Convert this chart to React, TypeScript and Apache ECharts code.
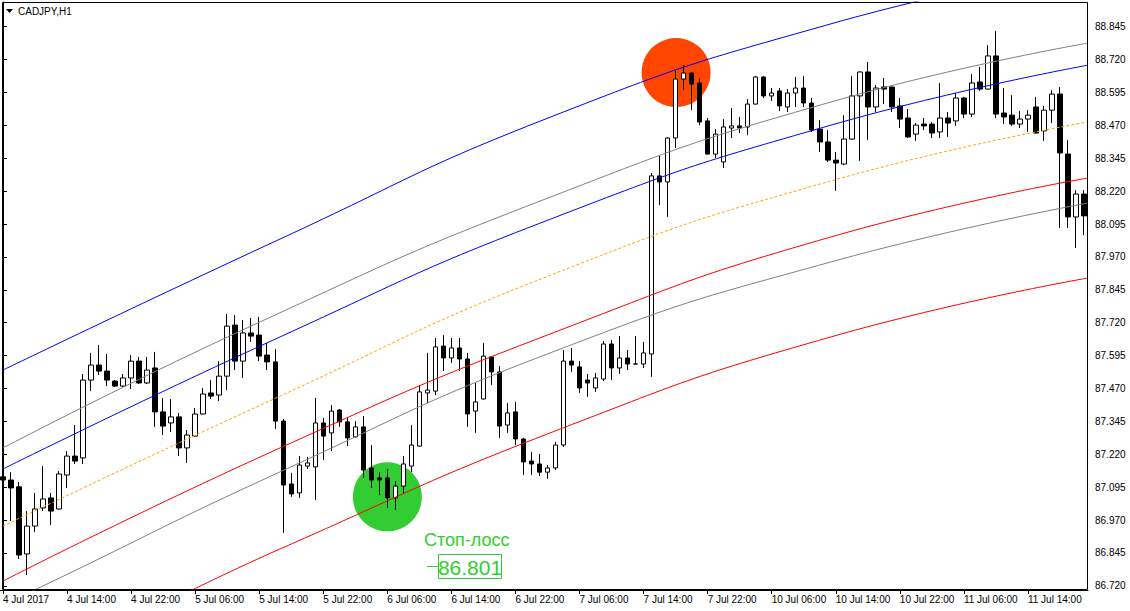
import React, { useEffect, useRef } from 'react';
import * as echarts from 'echarts';

const TITLE = 'CADJPY,H1';
const TIME_LABELS = [
  '4 Jul 2017', '4 Jul 14:00', '4 Jul 22:00', '5 Jul 06:00', '5 Jul 14:00', '5 Jul 22:00',
  '6 Jul 06:00', '6 Jul 14:00', '6 Jul 22:00', '7 Jul 06:00', '7 Jul 14:00', '7 Jul 22:00',
  '10 Jul 06:00', '10 Jul 14:00', '10 Jul 22:00', '11 Jul 06:00', '11 Jul 14:00',
];
const PRICE_TICKS = [
  86.72, 86.845, 86.97, 87.095, 87.22, 87.345, 87.47, 87.595, 87.72,
  87.845, 87.97, 88.095, 88.22, 88.345, 88.47, 88.595, 88.72, 88.845,
];
const Y_MIN = 86.704;
const Y_MAX = 88.939;

// [open, close, low, high]
const CANDLES: number[][] = [
  [87.134, 87.122, 87.111, 87.172], [87.122, 87.092, 86.966, 87.152], [87.096, 86.837, 86.822, 87.115],
  [86.841, 86.947, 86.761, 87.004], [86.947, 87.012, 86.924, 87.073], [87.016, 87.05, 87.004, 87.175],
  [87.054, 87.004, 86.951, 87.073], [87.012, 87.145, 87.01, 87.156], [87.141, 87.213, 87.092, 87.232],
  [87.213, 87.194, 87.183, 87.331], [87.206, 87.502, 87.183, 87.525], [87.502, 87.559, 87.46, 87.605],
  [87.559, 87.536, 87.521, 87.635], [87.536, 87.502, 87.479, 87.601], [87.498, 87.479, 87.476, 87.502],
  [87.479, 87.51, 87.476, 87.525], [87.51, 87.574, 87.468, 87.597], [87.574, 87.491, 87.487, 87.59],
  [87.491, 87.54, 87.487, 87.59], [87.548, 87.381, 87.324, 87.609], [87.381, 87.327, 87.293, 87.434],
  [87.339, 87.362, 87.305, 87.43], [87.362, 87.244, 87.213, 87.377], [87.244, 87.293, 87.187, 87.312],
  [87.289, 87.373, 87.287, 87.396], [87.373, 87.449, 87.371, 87.472], [87.453, 87.441, 87.43, 87.502],
  [87.445, 87.517, 87.422, 87.574], [87.517, 87.707, 87.464, 87.753], [87.711, 87.574, 87.54, 87.749],
  [87.574, 87.681, 87.51, 87.73], [87.681, 87.669, 87.647, 87.738], [87.673, 87.593, 87.574, 87.742],
  [87.597, 87.571, 87.54, 87.643], [87.571, 87.346, 87.316, 87.62], [87.346, 87.103, 86.921, 87.354],
  [87.107, 87.069, 87.058, 87.149], [87.073, 87.179, 87.054, 87.213], [87.175, 87.187, 87.164, 87.21],
  [87.172, 87.339, 87.046, 87.434], [87.339, 87.289, 87.198, 87.358], [87.301, 87.384, 87.232, 87.407],
  [87.388, 87.343, 87.324, 87.392], [87.343, 87.282, 87.251, 87.358], [87.286, 87.324, 87.284, 87.346],
  [87.324, 87.16, 87.13, 87.365], [87.168, 87.122, 87.092, 87.255], [87.13, 87.122, 87.065, 87.152],
  [87.13, 87.054, 87.016, 87.164], [87.054, 87.099, 87.008, 87.118], [87.099, 87.183, 87.073, 87.213],
  [87.175, 87.255, 87.152, 87.331], [87.251, 87.457, 87.248, 87.483], [87.453, 87.464, 87.415, 87.605],
  [87.46, 87.628, 87.445, 87.662], [87.631, 87.586, 87.536, 87.673], [87.586, 87.624, 87.567, 87.662],
  [87.624, 87.582, 87.536, 87.662], [87.582, 87.373, 87.324, 87.605], [87.384, 87.419, 87.301, 87.491],
  [87.43, 87.593, 87.428, 87.643], [87.59, 87.533, 87.483, 87.593], [87.533, 87.327, 87.282, 87.555],
  [87.331, 87.377, 87.301, 87.415], [87.381, 87.278, 87.255, 87.419], [87.278, 87.191, 87.141, 87.282],
  [87.194, 87.183, 87.141, 87.229], [87.183, 87.152, 87.137, 87.221], [87.152, 87.168, 87.126, 87.179],
  [87.168, 87.255, 87.16, 87.267], [87.255, 87.574, 87.248, 87.616], [87.574, 87.559, 87.533, 87.624],
  [87.552, 87.472, 87.453, 87.574], [87.502, 87.491, 87.438, 87.525], [87.472, 87.51, 87.457, 87.529],
  [87.506, 87.639, 87.498, 87.65], [87.639, 87.548, 87.502, 87.654], [87.548, 87.586, 87.525, 87.669],
  [87.586, 87.563, 87.54, 87.616], [87.563, 87.563, 87.561, 87.669], [87.563, 87.605, 87.548, 87.647],
  [87.601, 88.278, 87.514, 88.289], [88.278, 88.255, 88.167, 88.354], [88.255, 88.422, 88.122, 88.425],
  [88.422, 88.646, 88.384, 88.677], [88.646, 88.669, 88.604, 88.699], [88.669, 88.627, 88.528, 88.672],
  [88.631, 88.483, 88.471, 88.65], [88.487, 88.361, 88.359, 88.498], [88.361, 88.437, 88.346, 88.456],
  [88.331, 88.464, 88.308, 88.494], [88.46, 88.468, 88.422, 88.536], [88.468, 88.46, 88.441, 88.502],
  [88.464, 88.551, 88.433, 88.57], [88.551, 88.654, 88.549, 88.658], [88.654, 88.582, 88.574, 88.658],
  [88.582, 88.593, 88.563, 88.612], [88.601, 88.544, 88.525, 88.612], [88.54, 88.593, 88.521, 88.608],
  [88.593, 88.612, 88.54, 88.654], [88.612, 88.555, 88.54, 88.658], [88.555, 88.452, 88.445, 88.574],
  [88.456, 88.407, 88.369, 88.49], [88.407, 88.338, 88.331, 88.452], [88.338, 88.327, 88.221, 88.369],
  [88.323, 88.418, 88.319, 88.509], [88.418, 88.582, 88.416, 88.658], [88.582, 88.673, 88.335, 88.675],
  [88.673, 88.54, 88.414, 88.711], [88.54, 88.612, 88.521, 88.623], [88.616, 88.608, 88.551, 88.65],
  [88.616, 88.54, 88.521, 88.618], [88.544, 88.494, 88.46, 88.574], [88.498, 88.426, 88.422, 88.532],
  [88.437, 88.471, 88.411, 88.479], [88.475, 88.468, 88.452, 88.498], [88.475, 88.441, 88.422, 88.483],
  [88.445, 88.498, 88.422, 88.631], [88.498, 88.479, 88.426, 88.521], [88.487, 88.574, 88.468, 88.593],
  [88.574, 88.513, 88.498, 88.578], [88.513, 88.631, 88.502, 88.665], [88.635, 88.608, 88.601, 88.692],
  [88.608, 88.734, 88.606, 88.775], [88.734, 88.513, 88.498, 88.829], [88.517, 88.502, 88.475, 88.612],
  [88.509, 88.475, 88.468, 88.585], [88.475, 88.494, 88.46, 88.525], [88.494, 88.509, 88.445, 88.528],
  [88.54, 88.441, 88.439, 88.578], [88.449, 88.528, 88.411, 88.544], [88.528, 88.589, 88.479, 88.604],
  [88.589, 88.365, 88.08, 88.616], [88.361, 88.122, 88.08, 88.414], [88.122, 88.209, 88.004, 88.224],
  [88.209, 88.126, 88.053, 88.224],
];

// channel lines: [bar index, price]
const BLUE_UPPER = [[0, 87.54], [34.6, 88.038], [68.4, 88.502], [103.4, 88.856], [135.5, 89.08]];
const GRAY_UPPER = [[0, 87.244], [32.1, 87.723], [68.4, 88.198], [103.4, 88.559], [135.5, 88.783]];
const BLUE_LOWER = [[0, 87.164], [34.6, 87.666], [68.4, 88.114], [103.4, 88.471], [135.5, 88.699]];
const ORANGE_MID = [[0, 86.947], [34.6, 87.441], [68.4, 87.901], [103.4, 88.259], [135.5, 88.483]];
const RED_UPPER = [[0, 86.738], [34.6, 87.244], [69.6, 87.692], [103.4, 88.046], [135.5, 88.27]];
const GRAY_LOWER = [[0, 86.647], [5.25, 86.723], [34.6, 87.153], [69.6, 87.62], [103.4, 87.951], [135.5, 88.175]];
const RED_LOWER = [[22.1, 86.681], [34.6, 86.86], [69.6, 87.316], [103.4, 87.666], [135.5, 87.89]];

const STOP_TITLE = 'Стоп-лосс';
const STOP_VALUE = '86.801';
const MARK_GREEN = [[48, 87.058]];
const MARK_ORANGE = [[84.06, 88.671]];

const FONT = '"Liberation Sans", Arial, sans-serif';

export default function App() {
  const ref = useRef<HTMLDivElement>(null);
  useEffect(() => {
    const chart = echarts.init(ref.current!, null, { renderer: 'svg' });
    const cats = CANDLES.map((_, i) => 'b' + i);
    const line = (data: number[][], color: string, type: any = 'solid') => ({
      type: 'line', xAxisIndex: 1, yAxisIndex: 0, data, symbol: 'none', silent: true, smooth: true,
      lineStyle: { color, width: 1, type }, z: 3, clip: true,
    });
    chart.setOption({
      animation: false,
      backgroundColor: '#ffffff',
      textStyle: { fontFamily: FONT },
      grid: { left: -1, right: 42, top: 2, bottom: 21, containLabel: false, outerBoundsMode: 'none' },
      xAxis: [
        {
          type: 'category', data: cats, boundaryGap: true,
          axisLine: { lineStyle: { color: '#000', width: 1 } },
          axisTick: { show: true, interval: 7, alignWithLabel: true, length: 4, lineStyle: { color: '#000' } },
          axisLabel: {
            interval: 7, align: 'left', margin: 4, fontSize: 10, color: '#000', fontFamily: FONT,
            formatter: (_v: string, idx: number) => (idx % 8 === 0 ? TIME_LABELS[idx / 8] || '' : ''),
          },
          splitLine: { show: false },
        },
        { type: 'value', min: -0.5, max: 135.5, show: false, gridIndex: 0 },
      ],
      yAxis: {
        type: 'value', position: 'right', min: Y_MIN, max: Y_MAX, scale: true,
        axisLine: { show: true, lineStyle: { color: '#000', width: 1 } },
        axisTick: { show: true, length: 4, customValues: PRICE_TICKS, lineStyle: { color: '#000' } },
        axisLabel: {
          customValues: PRICE_TICKS, margin: 7, fontSize: 10, color: '#000', fontFamily: FONT,
          formatter: (v: number) => v.toFixed(3),
        },
        splitLine: { show: false },
      },
      series: [
        { type: 'scatter', xAxisIndex: 1, data: MARK_GREEN, symbol: 'circle', symbolSize: 69, itemStyle: { color: '#32CD32', opacity: 1 }, z: 1, silent: true },
        { type: 'scatter', xAxisIndex: 1, data: MARK_ORANGE, symbol: 'circle', symbolSize: 69, itemStyle: { color: '#FF4500', opacity: 1 }, z: 1, silent: true },
        {
          type: 'candlestick', xAxisIndex: 0, data: CANDLES, barWidth: 5, z: 2, silent: true,
          itemStyle: { color: '#ffffff', color0: '#000000', borderColor: '#000000', borderColor0: '#000000', borderColorDoji: '#000000', borderWidth: 1 },
        },
        line(BLUE_UPPER, '#0000FF'),
        line(GRAY_UPPER, '#808080'),
        line(BLUE_LOWER, '#0000FF'),
        line(ORANGE_MID, '#FFA500', [3, 2]),
        line(RED_UPPER, '#FF0000'),
        line(GRAY_LOWER, '#808080'),
        line(RED_LOWER, '#FF0000'),
      ],
      graphic: [
        { type: 'rect', z: 100, shape: { x: 2.5, y: 2.5, width: 1085, height: 587 }, style: { fill: 'none', stroke: '#000', lineWidth: 1 }, silent: true },
        { type: 'polygon', z: 100, shape: { points: [[6, 9], [13, 9], [9.5, 13]] }, style: { fill: '#000' }, silent: true },
        { type: 'text', z: 100, x: 18, y: 11, style: { text: TITLE, fill: '#000', fontSize: 10, fontFamily: FONT, verticalAlign: 'middle', textVerticalAlign: 'middle' }, silent: true },
        { type: 'text', z: 100, x: 424, y: 540, style: { text: STOP_TITLE, fill: '#32CD32', fontSize: 18, fontFamily: FONT, verticalAlign: 'middle', textVerticalAlign: 'middle' }, silent: true },
        { type: 'line', z: 100, shape: { x1: 427, y1: 566.5, x2: 438, y2: 566.5 }, style: { stroke: '#32CD32', lineWidth: 1 }, silent: true },
        { type: 'rect', z: 100, shape: { x: 438.5, y: 554.5, width: 63, height: 24 }, style: { fill: 'none', stroke: '#32CD32', lineWidth: 1 }, silent: true },
        { type: 'text', z: 100, x: 470, y: 567, style: { text: STOP_VALUE, fill: '#32CD32', fontSize: 21, fontFamily: FONT, align: 'center', textAlign: 'center', verticalAlign: 'middle', textVerticalAlign: 'middle' }, silent: true },
      ],
    });
    return () => chart.dispose();
  }, []);
  return <div ref={ref} style={{ position: 'fixed', left: 0, top: 0, width: 1130, height: 611, background: '#fff' }} />;
}
